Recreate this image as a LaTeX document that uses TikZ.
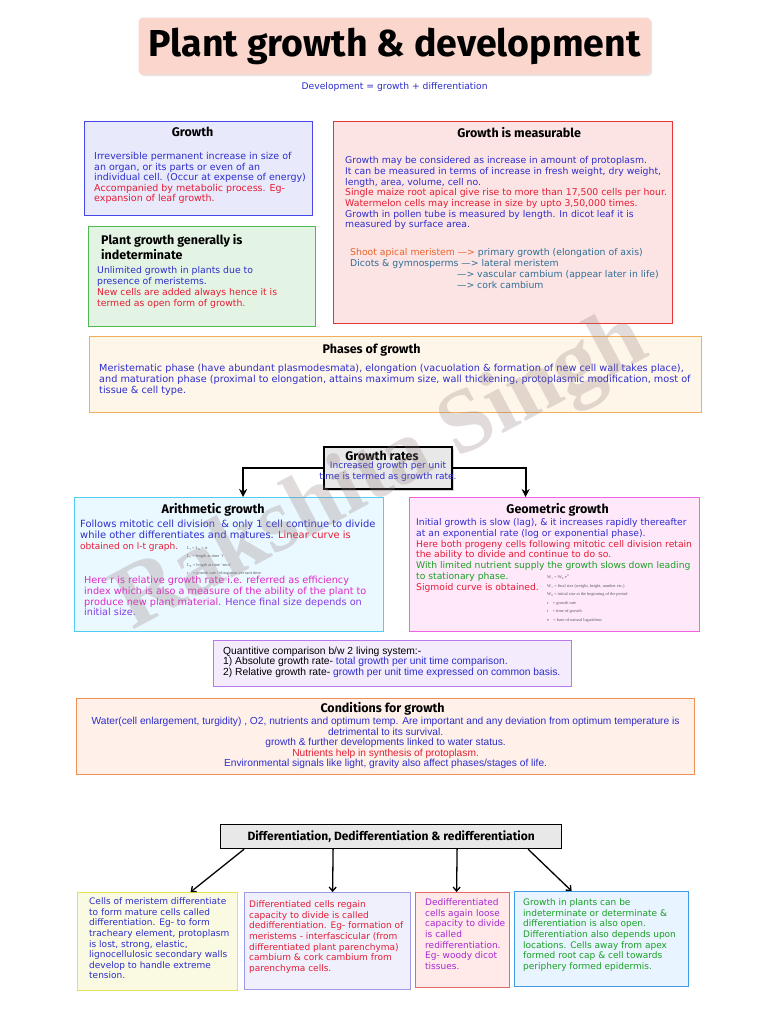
\documentclass[tikz,border=0pt]{standalone}
\usepackage{fontspec}
\usepackage{tikz}
\usetikzlibrary{positioning, arrows.meta, shadows}
\setmainfont{DejaVu Sans}
\newfontfamily\headfont{Fira Sans}
\newfontfamily\arialfont{Liberation Sans}
\newfontfamily\markfont{Liberation Serif}

\definecolor{ttlfill}{RGB}{250,214,204}
\definecolor{tblue}{RGB}{45,45,205}
\definecolor{tred}{RGB}{228,28,52}
\definecolor{tpink}{RGB}{225,40,200}
\definecolor{tpurple}{RGB}{130,60,230}
\definecolor{tgreen}{RGB}{25,160,35}
\definecolor{torange}{RGB}{230,100,45}
\definecolor{tteal}{RGB}{45,110,150}
\definecolor{dpurple}{RGB}{170,40,210}
\definecolor{gfill}{RGB}{233,233,252}\definecolor{gline}{RGB}{70,70,235}
\definecolor{mfill}{RGB}{253,228,228}\definecolor{mline}{RGB}{232,52,52}
\definecolor{ifill}{RGB}{228,244,228}\definecolor{iline}{RGB}{80,185,80}
\definecolor{pfill}{RGB}{255,246,234}\definecolor{pline}{RGB}{242,175,90}
\definecolor{rfill}{RGB}{232,232,232}
\definecolor{afill}{RGB}{234,248,255}\definecolor{aline}{RGB}{80,205,240}
\definecolor{efill}{RGB}{255,232,250}\definecolor{eline}{RGB}{240,100,225}
\definecolor{qfill}{RGB}{244,236,252}\definecolor{qline}{RGB}{185,120,235}
\definecolor{cfill}{RGB}{255,241,233}\definecolor{cline}{RGB}{242,145,85}
\definecolor{yfill}{RGB}{250,250,226}\definecolor{yline}{RGB}{230,226,80}
\definecolor{lfill}{RGB}{240,240,252}\definecolor{lline}{RGB}{155,155,232}
\definecolor{dfill}{RGB}{255,233,233}\definecolor{dline}{RGB}{232,105,105}
\definecolor{bfill}{RGB}{232,244,255}\definecolor{bline}{RGB}{65,155,232}
\definecolor{wmgray}{RGB}{150,128,128}

\begin{document}
\begin{tikzpicture}[x=1pt, y=-1pt,
    box/.style={draw, line width=1.2pt, anchor=north west, inner sep=0pt},
    head/.style={font=\headfont\bfseries\fontsize{12.5}{15}\selectfont, inner sep=0pt},
    txt/.style={font=\fontsize{9}{10.6}\selectfont, align=left, anchor=north west,
                inner sep=0pt, text=tblue},
    ctxt/.style={font=\arialfont\fontsize{10.2}{10.5}\selectfont, align=center,
                 inner sep=0pt, text=tblue},
    tiny/.style={font=\markfont\fontsize{4.3}{8.5}\selectfont, align=left, anchor=north west,
                 inner sep=0pt, text=black!65},
    rateflow/.style={-{Stealth[length=8pt, width=8pt]}, line width=2pt},
    diffflow/.style={-{Straight Barb[length=4pt, width=7pt]}, line width=1.3pt}
]
\fill[white] (0,0) rectangle (768,1024);
\useasboundingbox (0,0) rectangle (768,1024);

% title
\node[box, draw=none, fill=ttlfill, rounded corners=4pt, minimum width=512pt, minimum height=57pt,
      drop shadow={opacity=0.2, shadow xshift=1.5pt, shadow yshift=-1.5pt}] (title) at (138,17) {};
\node[font=\headfont\bfseries\fontsize{37.5}{40}\selectfont] (ttl) at (title.center) {Plant growth \& development};
\node[font=\fontsize{9.2}{10}\selectfont, text=tblue, inner sep=0pt, below=7pt of title.south] (sub)
     {Development = growth + differentiation};

% growth
\node[box, draw=gline, fill=gfill, minimum width=228pt, minimum height=94pt] (growth) at (84,121) {};
\node[head, below=5.5pt of growth.north, xshift=-6pt] (growthhd) {Growth};
\node[txt, font=\fontsize{9.5}{10.4}\selectfont, below right=31.4pt and 10pt of growth.north west] (growthtx)
     {Irreversible permanent increase in size of\\
      an organ, or its parts or even of an\\
      individual cell. (Occur at expense of energy)\\
      \textcolor{tred}{Accompanied by metabolic process. Eg-}\\
      \textcolor{tred}{expansion of leaf growth.}};

% growth is measurable
\node[box, draw=mline, fill=mfill, minimum width=339pt, minimum height=202pt] (meas) at (333,121) {};
\node[head, below=6.5pt of meas.north, xshift=16pt] (meashd) {Growth is measurable};
\node[txt, font=\fontsize{9.3}{10.7}\selectfont, below right=35.5pt and 12pt of meas.north west] (meastx)
     {Growth may be considered as increase in amount of protoplasm.\\
      It can be measured in terms of increase in fresh weight, dry weight,\\
      length, area, volume, cell no.\\
      \textcolor{tred}{Single maize root apical give rise to more than 17,500 cells per hour.}\\
      \textcolor{tred}{Watermelon cells may increase in size by upto 3,50,000 times.}\\
      Growth in pollen tube is measured by length. In dicot leaf it is\\
      measured by surface area.};
\node[txt, font=\fontsize{9.3}{11}\selectfont, text=tteal, below right=127.5pt and 17pt of meas.north west] (measarr)
     {\textcolor{torange}{Shoot apical meristem —>} primary growth (elongation of axis)\\
      Dicots \& gymnosperms —> lateral meristem\\
      \hspace*{107pt}—> vascular cambium (appear later in life)\\
      \hspace*{107pt}—> cork cambium};

% indeterminate
\node[box, draw=iline, fill=ifill, minimum width=227pt, minimum height=100pt] (indet) at (88,226) {};
\node[head, align=left, below right=8pt and 13pt of indet.north west] (indethd)
     {Plant growth generally is\\indeterminate};
\node[txt, font=\fontsize{9.3}{10.8}\selectfont, below right=40.5pt and 9pt of indet.north west] (indettx)
     {Unlimited growth in plants due to\\
      presence of meristems.\\
      \textcolor{tred}{New cells are added always hence it is}\\
      \textcolor{tred}{termed as open form of growth.}};

% phases
\node[box, draw=pline, fill=pfill, minimum width=612pt, minimum height=76pt] (phase) at (89,336) {};
\node[head, below=7.5pt of phase.north, xshift=-24pt] (phasehd) {Phases of growth};
\node[txt, font=\fontsize{9.7}{11}\selectfont, below right=28.3pt and 10pt of phase.north west] (phasetx)
     {Meristematic phase (have abundant plasmodesmata), elongation (vacuolation \& formation of new cell wall takes place),\\
      and maturation phase (proximal to elongation, attains maximum size, wall thickening, protoplasmic modification, most of\\
      tissue \& cell type.};

% growth rates
\node[box, draw=black, line width=2pt, fill=rfill, minimum width=128pt, minimum height=42pt,
      drop shadow={opacity=0.35, shadow xshift=2pt, shadow yshift=-2pt}] (rates) at (323,446) {};
\node[head, below=4.5pt of rates.north, xshift=-6pt] (rateshd) {Growth rates};
\node[txt, align=center, anchor=north, below=15.7pt of rates.north] (ratestx)
     {Increased growth per unit\\time is termed as growth rate.};

% arithmetic
\node[box, draw=aline, fill=afill, minimum width=309pt, minimum height=134pt] (arith) at (74,497) {};
\node[head, below=6.5pt of arith.north, xshift=-16pt] (arithhd) {Arithmetic growth};
\node[txt, font=\fontsize{9.9}{10.8}\selectfont, below right=23.2pt and 6pt of arith.north west] (arithtx)
     {Follows mitotic cell division\ \ \& only 1 cell continue to divide\\
      while other differentiates and matures. \textcolor{tred}{Linear curve is}};
\node[txt, text=tred, below right=45.7pt and 6pt of arith.north west] (arithgr)
     {obtained on l-t graph.};
\node[tiny, below right=49pt and 113pt of arith.north west] (arithfm)
     {L\textsubscript{t} = L\textsubscript{0} + rt\\
      L\textsubscript{t} = length at time `t'\\
      L\textsubscript{0} = length at time `zero'\\
      r\quad = growth rate / elongation per unit time.};
\node[txt, font=\fontsize{9.7}{10.7}\selectfont, text=tpink, below right=79.3pt and 10pt of arith.north west] (arithrr)
     {Here r is relative growth rate i.e. referred as efficiency\\
      index which is also a measure of the ability of the plant to\\
      produce new plant material. \textcolor{tpurple}{Hence final size depends on}\\
      \textcolor{tpurple}{initial size.}};

% geometric
\node[box, draw=eline, fill=efill, minimum width=290pt, minimum height=134pt] (geom) at (409,497) {};
\node[head, below=6.5pt of geom.north, xshift=3pt] (geomhd) {Geometric growth};
\node[txt, font=\fontsize{9.2}{10.67}\selectfont, below right=21.6pt and 7pt of geom.north west] (geomtx)
     {Initial growth is slow (lag), \& it increases rapidly thereafter\\
      at an exponential rate (log or exponential phase).\\
      \textcolor{tred}{Here both progeny cells following mitotic cell division retain}\\
      \textcolor{tred}{the ability to divide and continue to do so.}\\
      \textcolor{tgreen}{With limited nutrient supply the growth slows down leading}};
\node[txt, font=\fontsize{9.2}{10.67}\selectfont, below right=75.6pt and 7pt of geom.north west] (geomst)
     {\textcolor{tgreen}{to stationary phase.}\\
      \textcolor{tred}{Sigmoid curve is obtained.}};
\node[tiny, below right=78pt and 138pt of geom.north west] (geomfm)
     {W\textsubscript{1} = W\textsubscript{0} e\textsuperscript{rt}\\
      W\textsubscript{1} = final size (weight, height, number etc.)\\
      W\textsubscript{0} = initial size at the beginning of the period\\
      r\quad = growth rate\\
      t\quad = time of growth\\
      e\quad = base of natural logarithms};

\draw[rateflow] (rates.west) -| ([xshift=14pt]arith.north);
\draw[rateflow] (rates.east) -| ([xshift=-29pt]geom.north);

% quantitative comparison
\node[box, draw=qline, fill=qfill, minimum width=358pt, minimum height=46pt] (quant) at (213,640) {};
\node[txt, font=\arialfont\fontsize{10.3}{10.6}\selectfont, text=black,
      below right=6.5pt and 10pt of quant.north west] (quanttx)
     {Quantitive comparison b/w 2 living system:-\\
      1) Absolute growth rate- \textcolor{tblue}{total growth per unit time comparison.}\\
      2) Relative growth rate- \textcolor{tblue}{growth per unit time expressed on common basis.}};

% conditions
\node[box, draw=cline, fill=cfill, minimum width=618pt, minimum height=76pt] (cond) at (76,698) {};
\node[head, below=4.5pt of cond.north, xshift=-3pt] (condhd) {Conditions for growth};
\node[ctxt, anchor=north, below=19.2pt of cond.north] (condtx)
     {Water(cell enlargement, turgidity) , O2, nutrients and optimum temp. Are important and any deviation from optimum temperature is\\
      detrimental to its survival.\\
      growth \& further developments linked to water status.\\
      \textcolor{tred}{Nutrients help in synthesis of protoplasm.}\\
      Environmental signals like light, gravity also affect phases/stages of life.};

% differentiation
\node[box, draw=black, fill=rfill, minimum width=341pt, minimum height=24pt] (diffhead) at (220,824) {};
\node[head, font=\headfont\bfseries\fontsize{12}{14}\selectfont] (diffhd) at (diffhead.center)
     {Differentiation, Dedifferentiation \& redifferentiation};

\node[box, draw=yline, fill=yfill, minimum width=160pt, minimum height=98pt] (diffbox) at (77,892) {};
\node[txt, below right=5.7pt and 12pt of diffbox.north west] (difftx)
     {Cells of meristem differentiate\\
      to form mature cells called\\
      differentiation. Eg- to form\\
      tracheary element, protoplasm\\
      is lost, strong, elastic,\\
      lignocellulosic secondary walls\\
      develop to handle extreme\\
      tension.};
\node[box, draw=lline, fill=lfill, minimum width=166pt, minimum height=97pt] (dedifbox) at (244,892) {};
\node[txt, text=tred, below right=8.7pt and 5pt of dedifbox.north west] (dediftx)
     {Differentiated cells regain\\
      capacity to divide is called\\
      dedifferentiation. Eg- formation of\\
      meristems - interfascicular (from\\
      differentiated plant parenchyma)\\
      cambium \& cork cambium from\\
      parenchyma cells.};
\node[box, draw=dline, fill=dfill, minimum width=94pt, minimum height=95pt] (redifbox) at (415,892) {};
\node[txt, text=dpurple, below right=6.7pt and 10pt of redifbox.north west] (rediftx)
     {Dedifferentiated\\
      cells again loose\\
      capacity to divide\\
      is called\\
      redifferentiation.\\
      Eg- woody dicot\\
      tissues.};
\node[box, draw=bline, fill=bfill, minimum width=174pt, minimum height=95pt] (openbox) at (514,891) {};
\node[txt, text=tgreen, below right=7.7pt and 9pt of openbox.north west] (opentx)
     {Growth in plants can be\\
      indeterminate or determinate \&\\
      differentiation is also open.\\
      Differentiation also depends upon\\
      locations. Cells away from apex\\
      formed root cap \& cell towards\\
      periphery formed epidermis.};

\foreach \s/\b/\t in {-147/diffbox/33, -58/dedifbox/5, 66/redifbox/-6, 137/openbox/-30}{
  \draw[diffflow] ([xshift=\s pt]diffhead.south) -- ([xshift=\t pt]\b.north);}

% watermark
\node[rotate=28, font=\markfont\bfseries\fontsize{90}{95}\selectfont, text=wmgray, text opacity=0.28]
     (wmark) at (382,474) {Rakshita Singh};
\end{tikzpicture}
\end{document}
